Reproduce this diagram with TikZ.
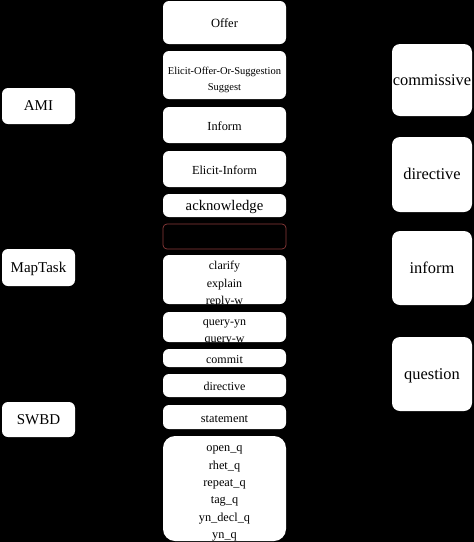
\documentclass[tikz,border=0pt]{standalone}
\usepackage{fontspec}
\setmainfont{Liberation Serif}
\definecolor{redline}{HTML}{8B3A3A}
\tikzset{
  wbox/.style={fill=white, draw=none, rounded corners=6pt, inner sep=0pt, text=black, align=center},
  midbox/.style={wbox, minimum width=123pt},
  lowtext/.style={text height=1.05em, text depth=0pt},
  sidebox/.style={wbox, minimum width=73pt, font=\fontsize{15}{18}\selectfont, text height=0.95em, text depth=0pt},
  catbox/.style={wbox, minimum width=80pt, rounded corners=8pt, font=\fontsize{16.4}{19}\selectfont, text height=1em, text depth=0pt},
  mtext/.style={inner sep=0pt, text=black, align=center, font=\fontsize{12}{17.5}\selectfont},
}
\begin{document}
\begin{tikzpicture}[x=1pt, y=-1pt]
\useasboundingbox (0,0) rectangle (474,542);
\fill[black] (0,0) rectangle (474,542);
% middle column
\node[midbox, lowtext, minimum height=43pt, font=\fontsize{12.5}{15}\selectfont] (offer) at (224.5,22.5) {Offer};
\node[midbox, minimum height=48pt] (elicitos) at (224.5,75) {};
\node[mtext, font=\fontsize{10.5}{16}\selectfont] (elicitost) at (224.5,79.5) {Elicit-Offer-Or-Suggestion\\Suggest};
\node[midbox, lowtext, minimum height=36pt, font=\fontsize{12.3}{15}\selectfont] (inform) at (224.5,125) {Inform};
\node[midbox, lowtext, minimum height=36pt, font=\fontsize{12.3}{15}\selectfont] (elicitinf) at (224.5,169) {Elicit-Inform};
\node[midbox, minimum height=23pt, font=\fontsize{14.7}{17}\selectfont, text height=0.9em, text depth=0pt] (ack) at (224.5,205.5) {acknowledge};
\node[midbox, minimum height=25pt, fill=black, draw=redline, line width=0.7pt, rounded corners=4pt] (blank) at (224.5,236.5) {};
\node[midbox, minimum height=49pt] (clarify) at (224.5,279.5) {};
\node[mtext] (clarifyt) at (224.5,284.5) {clarify\\explain\\reply-w};
\node[midbox, minimum height=30pt] (query) at (224.5,327) {};
\node[mtext, font=\fontsize{12}{17}\selectfont] (queryt) at (224.5,332) {query-yn\\query-w};
\node[midbox, lowtext, minimum height=18pt, font=\fontsize{12}{15}\selectfont] (commit) at (224.5,358) {commit};
\node[midbox, lowtext, minimum height=23pt, font=\fontsize{12}{15}\selectfont] (directive) at (224.5,385.5) {directive};
\node[midbox, lowtext, minimum height=24pt, font=\fontsize{12.3}{15}\selectfont] (statement) at (224.5,417) {statement};
\node[midbox, minimum height=105pt, rounded corners=12pt] (openq) at (224.5,488.5) {};
\node[mtext, font=\fontsize{12.3}{17.4}\selectfont] (openqt) at (224.5,493.5) {open\_q\\rhet\_q\\repeat\_q\\tag\_q\\yn\_decl\_q\\yn\_q};
% left column
\node[sidebox, minimum height=36pt] (ami) at (38.5,106) {AMI};
\node[sidebox, minimum height=37pt] (maptask) at (38.5,267.5) {MapTask};
\node[sidebox, minimum height=35pt] (swbd) at (38.5,419.5) {SWBD};
% right column
\node[catbox, minimum height=72pt] (commissive) at (432,80) {commissive};
\node[catbox, minimum height=75pt] (directivec) at (432,174.5) {directive};
\node[catbox, minimum height=74pt] (informc) at (432,268) {inform};
\node[catbox, minimum height=74pt] (question) at (432,374) {question};
\end{tikzpicture}
\end{document}
